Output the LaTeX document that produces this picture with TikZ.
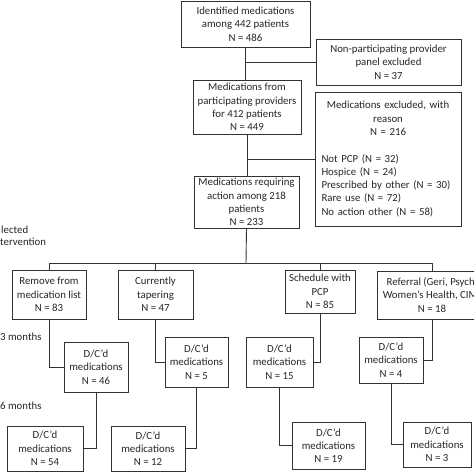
\documentclass[tikz,border=0pt]{standalone}
\usepackage{fontspec}
\setmainfont{Carlito}
\begin{document}
\begin{tikzpicture}[x=1pt,y=-1pt,
  every node/.style={font=\fontsize{10.8}{13.3}\selectfont, text=black!85},
  box/.style={draw=black!80, line width=0.9pt, align=center, inner sep=1pt},
  lbl/.style={anchor=west, inner sep=0pt},
  conn/.style={draw=black!80, line width=0.9pt}]
\useasboundingbox (0,0) rectangle (474,474);
\clip (0,0) rectangle (474,474);
% top chain
\node[box, minimum width=129, minimum height=46] (ident) at (245.5,24) {Identified medications\\among 442 patients\\N = 486};
\node[box, minimum width=145, minimum height=46] (nonpart) at (388.5,62) {Non-participating provider\\panel excluded\\N = 37};
\node[box, minimum width=108, minimum height=54] (partic) at (247,107) {Medications from\\participating providers\\for 412 patients\\N = 449};
\node[box, minimum width=146, minimum height=134, text width=133pt, align=left, inner xsep=6.5pt, inner ysep=1pt] (excl) at (388,159) {\centering Medications excluded, with\\reason\\N = 216\par\vspace{13.3pt}\raggedright Not PCP (N = 32)\\Hospice (N = 24)\\Prescribed by other (N = 30)\\Rare use (N = 72)\\No action other (N = 58)\par};
\node[box, minimum width=105, minimum height=52] (action) at (246.5,202) {Medications requiring\\action among 218\\patients\\N = 233};
% labels
\node[lbl] (sel1) at (1,230) {lected};
\node[lbl] (sel2) at (0,242) {tervention};
\node[lbl] (m3) at (0,337) {3 months};
\node[lbl] (m6) at (0,406) {6 months};
% row 1
\node[box, minimum width=74, minimum height=49] (remove) at (49,294.5) {Remove from\\medication list\\N = 83};
\node[box, minimum width=75, minimum height=49] (taper) at (155.5,294.5) {Currently\\tapering\\N = 47};
\node[box, minimum width=70, minimum height=43] (sched) at (320,291.5) {Schedule with\\PCP\\N = 85};
\node[box, minimum width=110, minimum height=48] (referral) at (432,295) {Referral (Geri, Psych,\\Women's Health, CIM)\\N = 18};
% row 2
\node[box, minimum width=64, minimum height=50] (dc46) at (96,367) {D/C'd\\medications\\N = 46};
\node[box, minimum width=63, minimum height=50] (dc5) at (196.5,362) {D/C'd\\medications\\N = 5};
\node[box, minimum width=67, minimum height=50] (dc15) at (279.5,362) {D/C'd\\medications\\N = 15};
\node[box, minimum width=64, minimum height=46] (dc4) at (391,360) {D/C'd\\medications\\N = 4};
% row 3
\node[box, minimum width=76, minimum height=45] (dc54) at (45,448.5) {D/C'd\\medications\\N = 54};
\node[box, minimum width=74, minimum height=45] (dc12) at (148,448.5) {D/C'd\\medications\\N = 12};
\node[box, minimum width=73, minimum height=47] (dc19) at (328.5,445.5) {D/C'd\\medications\\N = 19};
\node[box, minimum width=68, minimum height=45] (dc3) at (437,444.5) {D/C'd\\medications\\N = 3};
% connectors
\coordinate (bus) at (246,263);
\draw[conn] (ident.south) -- (ident.south |- partic.north);
\draw[conn] (ident.south |- nonpart.west) -- (nonpart.west);
\draw[conn] (partic.south) -- (partic.south |- action.north);
\draw[conn] (partic.south |- excl.west) -- (excl.west);
\draw[conn] (action.south) -- (bus);
\draw[conn] (remove.north) -- (remove.north |- bus) -- (referral.north |- bus) -- (referral.north);
\draw[conn] (taper.north) -- (taper.north |- bus);
\draw[conn] (sched.north) -- (sched.north |- bus);
\draw[conn] (remove.south) |- (dc46.west);
\draw[conn] (taper.south) |- (dc5.west);
\draw[conn] (sched.south) |- (dc15.east);
\draw[conn] (referral.south) |- (dc4.east);
\draw[conn] (dc46.south) |- (dc54.east);
\draw[conn] (dc5.south) |- (dc12.east);
\draw[conn] (dc15.south) |- (dc19.west);
\draw[conn] (dc4.south) |- (dc3.west);
\end{tikzpicture}
\end{document}
